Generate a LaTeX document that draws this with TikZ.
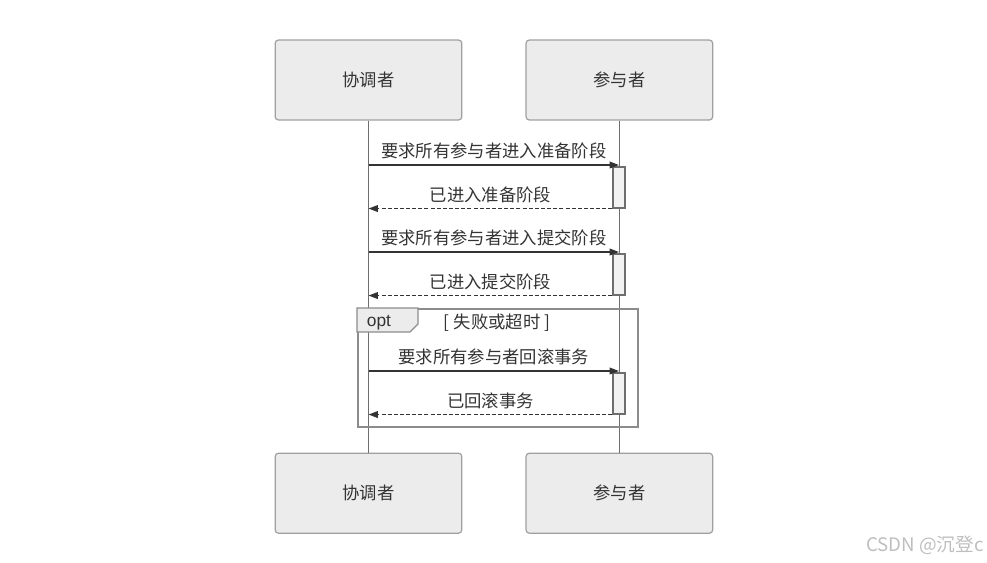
\documentclass[tikz,border=0pt]{standalone}
\usepackage{fontspec}
\setmainfont{Liberation Sans}
\newfontfamily\cjk{Noto Sans CJK SC}
\usetikzlibrary{arrows.meta, positioning, calc}
\definecolor{boxgray}{RGB}{236,236,236}
\definecolor{actgray}{RGB}{242,242,242}
\definecolor{linegray}{RGB}{160,160,160}
\definecolor{framegray}{RGB}{140,140,140}
\definecolor{textgray}{RGB}{51,51,51}
\definecolor{lifegray}{RGB}{110,110,110}
\definecolor{markgray}{RGB}{190,190,190}

\begin{document}
\begin{tikzpicture}[
    x=0.75pt, y=-0.75pt,
    node distance=47.25pt,
    every node/.style={font=\cjk\fontsize{13}{15}\selectfont, text=textgray},
    actor/.style={rectangle, draw=linegray, fill=boxgray, line width=0.9pt, rounded corners=2.5pt, minimum width=140pt, minimum height=60pt},
    act/.style={rectangle, draw=lifegray, fill=actgray, line width=0.8pt, minimum width=9pt, minimum height=30.75pt, inner sep=0pt},
    life/.style={draw=lifegray, line width=1.1pt},
    msg/.style={-{Triangle[length=7pt, width=5pt]}, draw=textgray, line width=1.1pt},
    ret/.style={msg, dashed, dash pattern=on 3pt off 1.6pt},
    lbl/.style={midway, above, inner sep=3.8pt},
    frame/.style={rectangle, draw=framegray, line width=1.6pt, inner sep=0pt},
    tab/.style={draw=framegray, fill=boxgray, line width=1pt}
]
\useasboundingbox (0,0) rectangle (987,562);

% participants
\node[actor] (coord) at (368.5,80) {协调者};
\node[actor, right=of coord] (part) {参与者};
\node[actor, below=249pt of coord] (coordB) {协调者};
\node[actor, below=249pt of part] (partB) {参与者};

\draw[life] (coord.south) -- (coordB.north);
\draw[life] (part.south) -- (partB.north);

% activations
\node[act] (act1) at (619,187.5) {};
\node[act] (act2) at (619,274.5) {};
\node[act] (act3) at (619,393.5) {};

\coordinate (m1) at (619,165);
\coordinate (m2) at (619,252);
\coordinate (m3) at (619,371);

% messages
\draw[msg] (coord.south |- m1) -- node[lbl] (l1) {要求所有参与者进入准备阶段} (m1);
\draw[ret] (act1.south west) -- node[lbl] (l2) {已进入准备阶段} (coord.south |- act1.south west);
\draw[msg] (coord.south |- m2) -- node[lbl] (l3) {要求所有参与者进入提交阶段} (m2);
\draw[ret] (act2.south west) -- node[lbl] (l4) {已进入提交阶段} (coord.south |- act2.south west);

% opt fragment
\node[frame, anchor=north west, minimum width=210pt, minimum height=88.5pt] (opt) at (357,308) {};
\draw[tab] (opt.north west) -- ++(61,0) -- ++(0,16) -- ++(-8,8) -- ++(-53,0) -- cycle;
\node[font=\normalfont\fontsize{13}{15}\selectfont] (optname) at ($(opt.north west)+(22,15)$) {opt};
\node (cond) at (497,322.5) {[ 失败或超时 ]};

\draw[msg] (coord.south |- m3) -- node[lbl] (l5) {要求所有参与者回滚事务} (m3);
\draw[ret] (act3.south west) -- node[lbl] (l6) {已回滚事务} (coord.south |- act3.south west);

\node[font=\cjk\fontsize{14}{16}\selectfont, text=markgray] (mark) at (925,545) {CSDN @沉登c};
\end{tikzpicture}
\end{document}
